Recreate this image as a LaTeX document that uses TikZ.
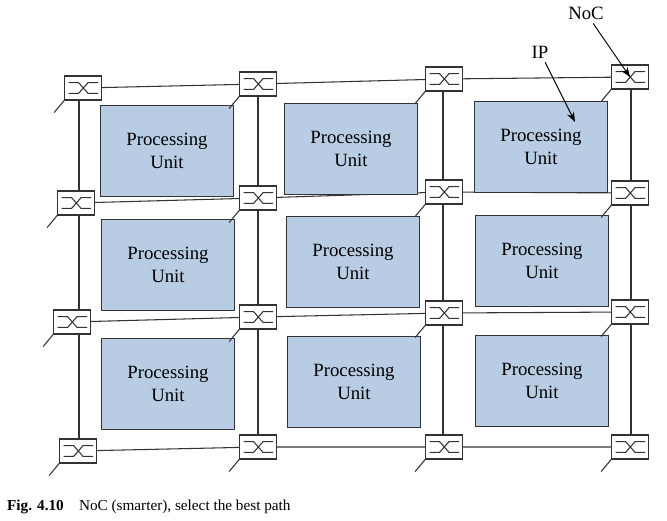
\documentclass[tikz,border=0pt]{standalone}
\usepackage{fontspec}
\setmainfont{Liberation Serif}
\usetikzlibrary{arrows.meta, calc}
\definecolor{publue}{RGB}{184,204,228}
\tikzstyle{switch} = [rectangle, draw=black!80, line width=0.9pt, fill=white, minimum width=1.1cm, minimum height=0.72cm, inner sep=0pt,
  path picture={\draw[black!80, line width=0.9pt] ($(path picture bounding box.north west)+(0.12cm,-0.2cm)$) -- ++(0.3cm,0cm) -- ++(0.28cm,-0.32cm) -- ++(0.3cm,0cm)
    ($(path picture bounding box.south west)+(0.12cm,0.2cm)$) -- ++(0.3cm,0cm) -- ++(0.28cm,0.32cm) -- ++(0.3cm,0cm);}]
\tikzstyle{unit} = [rectangle, draw=black!80, line width=0.9pt, fill=publue, minimum width=4cm, minimum height=2.75cm, align=center, font=\fontsize{16}{19}\selectfont, inner sep=0pt]
\tikzstyle{link} = [black!80, line width=0.9pt]
\tikzstyle{arrow} = [thick, -{Stealth[length=3mm]}]
\begin{document}
\begin{tikzpicture}[x=0.03cm, y=-0.03cm]
  \useasboundingbox (0,0) rectangle (667,520);
  % links first, switches drawn on top
  \foreach \r/\xa/\ya/\yb/\yc/\yd in {1/83/88/84/79/77, 2/76/203/198/192/193, 3/72/322/317/313/312, 4/78/451/447/447/447} {
    \coordinate (p-\r-1) at (\xa,\ya);
    \coordinate (p-\r-2) at (258,\yb);
    \coordinate (p-\r-3) at (444,\yc);
    \coordinate (p-\r-4) at (630,\yd);
  }
  \foreach \r in {1,...,4} {
    \draw [link] (p-\r-1) -- (p-\r-2) -- (p-\r-3) -- (p-\r-4);
  }
  \foreach \c/\x in {1/79, 2/258, 3/443, 4/631} {
    \coordinate (top-\c) at (\x,85);
    \coordinate (bot-\c) at (\x,447);
    \draw [link] (top-\c) -- (bot-\c);
  }
  % processing units
  \foreach \x/\y [count=\i] in {167/151, 351/149, 541/147, 168/265, 353/262, 542/261, 168/384, 354/382, 542/381} {
    \node (pu\i) [unit] at (\x,\y) {Processing\\Unit};
  }
  % routers
  \foreach \r in {1,...,4} {
    \foreach \c in {1,...,4} {
      \node (sw-\r-\c) [switch] at (p-\r-\c) {};
      \draw [link] (sw-\r-\c.south west) -- ++(-10,12);
    }
  }
  \node (noc) [font=\fontsize{16}{19}\selectfont] at (586,13) {NoC};
  \node (ip) [font=\fontsize{16}{19}\selectfont] at (540,52) {IP};
  \draw [arrow] (noc) -- (sw-1-4.center);
  \draw [arrow] (ip) -- ($(pu3)+(34,-25)$);
  \node (caption) [anchor=west, font=\fontsize{13}{15}\selectfont] at (3,507) {\textbf{Fig. 4.10}\quad NoC (smarter), select the best path};
\end{tikzpicture}
\end{document}
